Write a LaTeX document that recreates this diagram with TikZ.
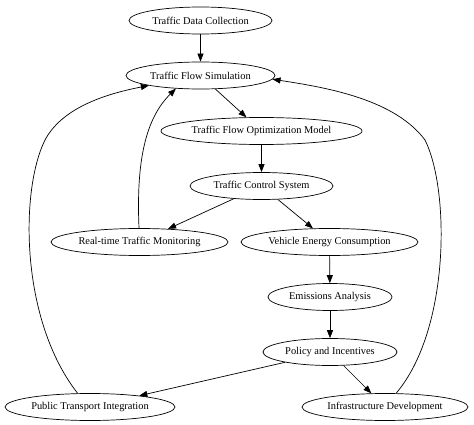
\documentclass[tikz,border=0pt]{standalone}
\usepackage{fontspec}
\setmainfont{Liberation Serif}
\usetikzlibrary{shapes.geometric,arrows.meta}
\begin{document}
\begin{tikzpicture}[x=1pt,y=-1pt,
    state/.style={draw,ellipse,line width=0.7pt,inner sep=0pt,minimum height=27pt,font=\fontsize{10.4}{12}\selectfont},
    edge/.style={line width=0.7pt,-{Triangle[length=8pt,width=6pt]}}]
        \useasboundingbox (0,0) rectangle (474,425);
        \node[state,minimum width=143pt] (tdc) at (200.5,20.5) {Traffic Data Collection};
        \node[state,minimum width=149pt] (tfs) at (200.5,75.5) {Traffic Flow Simulation};
        \node[state,minimum width=201pt] (tfom) at (261.5,131) {Traffic Flow Optimization Model};
        \node[state,minimum width=143pt] (tcs) at (261.5,186) {Traffic Control System};
        \node[state,minimum width=177pt] (rtm) at (139.5,242) {Real-time Traffic Monitoring};
        \node[state,minimum width=177pt] (vec) at (329.5,242) {Vehicle Energy Consumption};
        \node[state,minimum width=124pt] (ea) at (330,297) {Emissions Analysis};
        \node[state,minimum width=134pt] (pi) at (330,352) {Policy and Incentives};
        \node[state,minimum width=170pt] (pti) at (90,407) {Public Transport Integration};
        \node[state,minimum width=166pt] (id) at (385,407) {Infrastructure Development};
        \draw[edge] (tdc) -- (tfs);
        \draw[edge] (tfs) -- (tfom);
        \draw[edge] (tfom) -- (tcs);
        \draw[edge] (tcs) -- (rtm);
        \draw[edge] (tcs) -- (vec);
        \draw[edge] (vec) -- (ea);
        \draw[edge] (ea) -- (pi);
        \draw[edge] (pi) -- (pti);
        \draw[edge] (pi) -- (id);
        % feedback loops back to the simulation
        \draw[edge] (rtm.92) .. controls (136,160) and (146,118) .. (tfs.208);
        \draw[edge] (pti.132) .. controls (20,320) and (20,190) .. (45,140)
          .. controls (62,108) and (105,94) .. (tfs.191);
        \draw[edge] (id.51) .. controls (450,330) and (450,190) .. (425,140)
          .. controls (395,100) and (330,88) .. (tfs.-3);
      \end{tikzpicture}
\end{document}
